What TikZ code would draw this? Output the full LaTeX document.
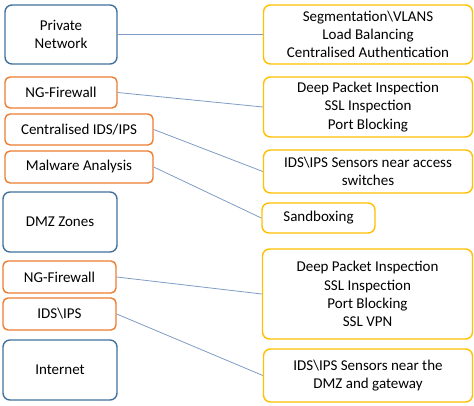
\documentclass[tikz,border=0pt]{standalone}
\usepackage{fontspec}
\setmainfont{Carlito}
\usetikzlibrary{positioning}
\definecolor{zoneblue}{HTML}{41719C}
\definecolor{toolorange}{HTML}{ED7D31}
\definecolor{featgold}{HTML}{FFC000}
\definecolor{linkblue}{HTML}{7F9CC4}
\tikzset{
  box/.style = {draw, line width=1.4pt, rounded corners=7pt, fill=white, align=center, inner sep=1pt, font=\fontsize{15}{18.3}\selectfont},
  zone/.style = {box, draw=zoneblue},
  tool/.style = {box, draw=toolorange, rounded corners=5pt},
  feat/.style = {box, draw=featgold},
  link/.style = {draw=linkblue, line width=0.8pt},
}
\begin{document}
\begin{tikzpicture}[x=1pt, y=-1pt]
		\useasboundingbox (0,0) rectangle (474,406);
		%% NODES
		% Left column: zones and tools
		\node[zone, minimum width=112pt, minimum height=59pt] (pn) at (61,34.5) {Private\\Network};
		\node[tool, minimum width=112pt, minimum height=31pt] (ng1) at (61,92.5) {NG-Firewall};
		\node[tool, minimum width=148pt, minimum height=31pt] (cids) at (79,129.5) {Centralised IDS/IPS};
		\node[tool, minimum width=148pt, minimum height=32pt] (ma) at (79,167) {Malware Analysis};
		\node[zone, minimum width=114pt, minimum height=60pt] (dmz) at (60,222) {DMZ Zones};
		\node[tool, minimum width=113pt, minimum height=32pt] (ng2) at (59.5,277) {NG-Firewall};
		\node[tool, minimum width=113pt, minimum height=32pt] (ids) at (59.5,314) {IDS\textbackslash IPS};
		\node[zone, minimum width=114pt, minimum height=60pt] (inet) at (60,370) {Internet};
		% Right column: features
		\node[feat, minimum width=209pt, minimum height=59pt] (seg) at (368,34.5) {Segmentation\textbackslash VLANS\\Load Balancing\\Centralised Authentication};
		\node[feat, minimum width=209pt, minimum height=60pt] (dpi1) at (368,107) {Deep Packet Inspection\\SSL Inspection\\Port Blocking};
		\node[feat, minimum width=209pt, minimum height=43pt] (acc) at (368,171.5) {IDS\textbackslash IPS Sensors near access\\switches};
		\node[feat, minimum width=113pt, minimum height=30pt] (sand) at (318.5,218) {Sandboxing};
		\node[feat, minimum width=210pt, minimum height=90pt] (dpi2) at (367.5,294) {Deep Packet Inspection\\SSL Inspection\\Port Blocking\\SSL VPN};
		\node[feat, minimum width=209pt, minimum height=53pt] (gate) at (368,375.5) {IDS\textbackslash IPS Sensors near the\\DMZ and gateway};
		%% LINKS
		\draw[link] (pn) -- (seg);
		\draw[link] (ng1.east) -- (dpi1.west);
		\draw[link] (cids.east) -- (acc.west);
		\draw[link] (ma.east) -- (sand.west);
		\draw[link] (ng2.east) -- (dpi2.west);
		\draw[link] (ids.east) -- (gate.west);
	\end{tikzpicture}
\end{document}
